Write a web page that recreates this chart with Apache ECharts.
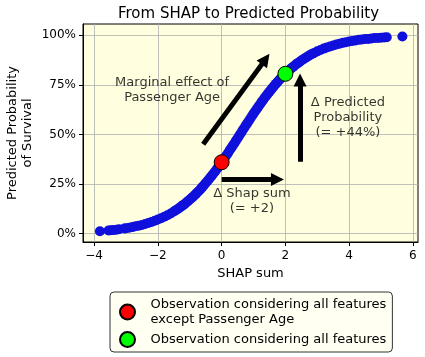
<!DOCTYPE html>
<html>
<head>
<meta charset="utf-8">
<script src="https://cdn.jsdelivr.net/npm/echarts@6/dist/echarts.min.js"></script>
<style>html,body{margin:0;padding:0;background:#fff}#c{width:425px;height:357px}</style>
</head>
<body>
<div id="c"></div>
<script>
// SHAP sum (x) and predicted probability of survival (y) for each observation
const shapSum = [-3.82, -3.55, -3.48, -3.40, -3.30, -3.22, -3.05, -3.0, -2.9, -2.8, -2.7, -2.6, -2.5, -2.4, -2.3, -2.2, -2.1, -2.0,
  -1.9, -1.8, -1.7, -1.6, -1.5, -1.4, -1.3, -1.2, -1.1, -1.0, -0.9, -0.8, -0.7, -0.6, -0.5, -0.4, -0.3, -0.2, -0.1, 0.0,
  0.1, 0.2, 0.3, 0.4, 0.5, 0.6, 0.7, 0.8, 0.9, 1.0, 1.1, 1.2, 1.3, 1.4, 1.5, 1.6, 1.7, 1.8, 1.9, 2.0,
  2.1, 2.2, 2.3, 2.4, 2.5, 2.6, 2.7, 2.8, 2.9, 3.0, 3.1, 3.2, 3.3, 3.4, 3.5, 3.6, 3.7, 3.8, 3.9, 4.0,
  4.1, 4.2, 4.3, 4.4, 4.5, 4.6, 4.7, 4.8, 4.9, 5.0, 5.1, 5.18, 5.67];
const predProb = [0.012, 0.016, 0.017, 0.018, 0.020, 0.022, 0.026, 0.027, 0.030, 0.033, 0.037, 0.040, 0.044, 0.049, 0.054, 0.059, 0.065, 0.071,
  0.078, 0.085, 0.093, 0.102, 0.112, 0.122, 0.133, 0.145, 0.158, 0.172, 0.186, 0.202, 0.218, 0.236, 0.255, 0.274, 0.294, 0.315, 0.337, 0.360,
  0.383, 0.407, 0.432, 0.456, 0.481, 0.506, 0.531, 0.556, 0.581, 0.605, 0.628, 0.651, 0.674, 0.695, 0.716, 0.736, 0.755, 0.773, 0.790, 0.806,
  0.821, 0.836, 0.849, 0.861, 0.873, 0.883, 0.893, 0.903, 0.911, 0.919, 0.926, 0.933, 0.939, 0.944, 0.949, 0.954, 0.958, 0.962, 0.965, 0.969,
  0.971, 0.974, 0.977, 0.979, 0.981, 0.982, 0.984, 0.986, 0.987, 0.988, 0.989, 0.990, 0.994];
// further observations in the steep middle part of the curve
const shapSumMid = [-1.45, -1.35, -1.25, -1.15, -1.05, -0.95, -0.85, -0.75, -0.65, -0.55, -0.45, -0.35, -0.25, -0.15, -0.05,
  0.05, 0.15, 0.25, 0.35, 0.45, 0.55, 0.65, 0.75, 0.85, 0.95, 1.05, 1.15, 1.25, 1.35, 1.45, 1.55, 1.65, 1.75, 1.85, 1.95,
  2.05, 2.15, 2.25, 2.35, 2.45, 2.55, 2.65, 2.75, 2.85];
const predProbMid = [0.117, 0.127, 0.139, 0.151, 0.165, 0.179, 0.194, 0.210, 0.227, 0.245, 0.264, 0.284, 0.305, 0.326, 0.349,
  0.372, 0.395, 0.420, 0.444, 0.469, 0.494, 0.519, 0.544, 0.568, 0.593, 0.617, 0.640, 0.663, 0.685, 0.706, 0.726, 0.746, 0.764, 0.782, 0.798,
  0.814, 0.829, 0.842, 0.855, 0.867, 0.878, 0.888, 0.898, 0.907];

const obsWithoutAge = [0, 0.36];
const obsAll = [2, 0.806];
const nameWithoutAge = 'Observation considering all features\nexcept Passenger Age';
const nameAll = 'Observation considering all features';

const xTicks = [-4, -2, 0, 2, 4, 6];
const yTicks = [0, 0.25, 0.5, 0.75, 1];

// arrows: [start, end] in data coordinates
const arrowMarginal = [[-0.58, 0.451], [1.38, 0.88]];
const arrowShap = [[0.0, 0.273], [1.75, 0.273]];
const arrowProb = [[2.46, 0.362], [2.46, 0.775]];

// annotation texts and their anchor points
const notes = [
  { text: 'Marginal effect of\nPassenger Age', at: [-1.555, 0.724] },
  { text: '\u0394 Predicted\nProbability\n(= +44%)', at: [3.96, 0.585] },
  { text: '\u0394 Shap sum\n(= +2)', at: [0.95, 0.163] }
];

const FONT = 'DejaVu Sans';
const chart = echarts.init(document.getElementById('c'), null, { renderer: 'canvas' });
chart.setOption({
  animation: false,
  textStyle: { fontFamily: FONT, color: '#000' },
  title: {
    text: 'From SHAP to Predicted Probability',
    left: 118, top: 7, padding: 0,
    textStyle: { fontFamily: FONT, fontSize: 15, fontWeight: 'normal', color: '#000' }
  },
  grid: {
    left: 83, right: 7, top: 24, bottom: 115,
    show: true, backgroundColor: '#ffffe0', borderColor: '#000', borderWidth: 1,
    containLabel: false, outerBoundsMode: 'none'
  },
  xAxis: {
    type: 'value', min: -4.35, max: 6.16,
    name: 'SHAP sum', nameLocation: 'middle', nameGap: 25, nameMoveOverlap: false,
    nameTextStyle: { fontFamily: FONT, fontSize: 13, color: '#000' },
    axisLine: { show: true, onZero: false, lineStyle: { color: '#000', width: 1 } },
    axisTick: { show: true, length: 4, customValues: xTicks, lineStyle: { color: '#000' } },
    axisLabel: { customValues: xTicks, fontFamily: FONT, fontSize: 12, color: '#000', margin: 8,
      formatter: v => (v < 0 ? '\u2212' + Math.abs(v) : String(v)) },
    splitLine: { show: true, lineStyle: { color: '#b0b0b0', width: 0.8 } }
  },
  yAxis: {
    type: 'value', min: -0.042, max: 1.057,
    name: 'Predicted Probability\nof Survival', nameLocation: 'middle', nameGap: 48, nameMoveOverlap: false,
    nameTextStyle: { fontFamily: FONT, fontSize: 13, color: '#000', lineHeight: 15 },
    axisLine: { show: true, onZero: false, lineStyle: { color: '#000', width: 1 } },
    axisTick: { show: true, length: 4, customValues: yTicks, lineStyle: { color: '#000' } },
    axisLabel: { customValues: yTicks, fontFamily: FONT, fontSize: 12, color: '#000', margin: 7,
      formatter: v => Math.round(v * 100) + '%' },
    splitLine: { show: true, lineStyle: { color: '#b0b0b0', width: 0.8 } }
  },
  legend: {
    orient: 'vertical', left: 110, top: 292,
    padding: [5, 6, 4, 9], itemGap: 4,
    itemWidth: 30, itemHeight: 15, selectedMode: false,
    backgroundColor: '#fffff2', borderColor: '#333', borderWidth: 1, borderRadius: 4,
    textStyle: { fontFamily: FONT, fontSize: 13, color: '#000', lineHeight: 15, padding: [0, 0, 0, 3] },
    data: [
      { name: nameWithoutAge, icon: 'circle' },
      { name: nameAll, icon: 'circle' }
    ]
  },
  series: [
    {
      name: 'curve', type: 'scatter', symbolSize: 10,
      itemStyle: { color: '#1010dd', opacity: 1 },
      data: shapSum.map((x, i) => [x, predProb[i]]).concat(shapSumMid.map((x, i) => [x, predProbMid[i]])), z: 2
    },
    {
      name: 'arrows', type: 'lines', coordinateSystem: 'cartesian2d', z: 4,
      symbol: ['none', 'triangle'], symbolSize: [14, 13],
      lineStyle: { color: '#000', width: 5, opacity: 1, curveness: 0 },
      data: [arrowMarginal, arrowShap, arrowProb].map(a => ({ coords: a }))
    },
    {
      name: nameWithoutAge, type: 'scatter', symbolSize: 15, z: 5,
      itemStyle: { color: '#ff0000', borderColor: '#000', borderWidth: 1, opacity: 1 },
      data: [obsWithoutAge]
    },
    {
      name: nameAll, type: 'scatter', symbolSize: 15, z: 5,
      itemStyle: { color: '#00ff00', borderColor: '#000', borderWidth: 1, opacity: 1 },
      data: [obsAll]
    },
    {
      name: 'notes', type: 'scatter', symbolSize: 1, z: 6, silent: true,
      itemStyle: { color: 'rgba(0,0,0,0)' },
      label: { show: true, position: 'inside', fontFamily: FONT, fontSize: 13, color: '#000',
        textBorderWidth: 0, lineHeight: 15, align: 'center', verticalAlign: 'middle', formatter: p => p.data.text },
      data: notes.map(n => ({ value: n.at, text: n.text }))
    }
  ]
});
</script>
</body>
</html>
